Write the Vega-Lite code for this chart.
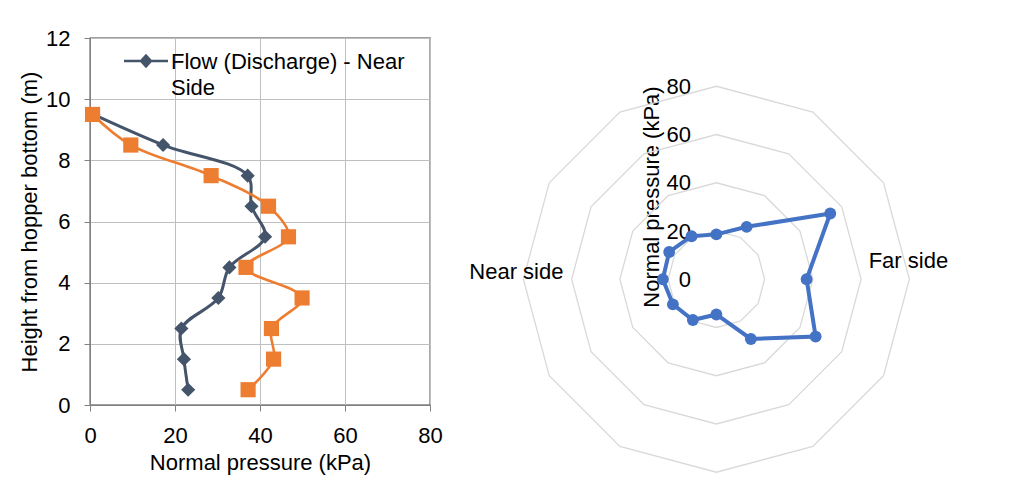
{
  "$schema": "https://vega.github.io/schema/vega-lite/v6.json",
  "background": "white",
  "padding": {"left": 17, "top": 26, "right": 5, "bottom": 5},
  "bounds": "flush",
  "spacing": 21,
  "config": {
    "font": "Liberation Sans",
    "axis": {
      "labelFont": "Liberation Sans",
      "titleFont": "Liberation Sans",
      "labelFontSize": 22,
      "titleFontSize": 22,
      "labelColor": "#000000",
      "titleColor": "#000000",
      "titleFontWeight": "normal",
      "labelFlush": false,
      "labelOverlap": false
    },
    "legend": {"labelFont": "Liberation Sans", "labelColor": "#000000"}
  },
  "datasets": {
    "profiles": [
      {"series": "Flow (Discharge) - Near Side", "height": 0.5, "pressure": 23.1},
      {"series": "Flow (Discharge) - Near Side", "height": 1.5, "pressure": 22.1},
      {"series": "Flow (Discharge) - Near Side", "height": 2.5, "pressure": 21.5},
      {"series": "Flow (Discharge) - Near Side", "height": 3.5, "pressure": 30.2},
      {"series": "Flow (Discharge) - Near Side", "height": 4.5, "pressure": 32.8},
      {"series": "Flow (Discharge) - Near Side", "height": 5.5, "pressure": 41.2},
      {"series": "Flow (Discharge) - Near Side", "height": 6.5, "pressure": 38.0},
      {"series": "Flow (Discharge) - Near Side", "height": 7.5, "pressure": 37.1},
      {"series": "Flow (Discharge) - Near Side", "height": 8.5, "pressure": 17.2},
      {"series": "Flow (Discharge) - Near Side", "height": 9.5, "pressure": 0.8},
      {"series": "Flow (Discharge) - Far Side", "height": 0.5, "pressure": 37.2},
      {"series": "Flow (Discharge) - Far Side", "height": 1.5, "pressure": 43.2},
      {"series": "Flow (Discharge) - Far Side", "height": 2.5, "pressure": 42.7},
      {"series": "Flow (Discharge) - Far Side", "height": 3.5, "pressure": 49.9},
      {"series": "Flow (Discharge) - Far Side", "height": 4.5, "pressure": 36.7},
      {"series": "Flow (Discharge) - Far Side", "height": 5.5, "pressure": 46.7},
      {"series": "Flow (Discharge) - Far Side", "height": 6.5, "pressure": 42.0},
      {"series": "Flow (Discharge) - Far Side", "height": 7.5, "pressure": 28.5},
      {"series": "Flow (Discharge) - Far Side", "height": 8.5, "pressure": 9.6},
      {"series": "Flow (Discharge) - Far Side", "height": 9.5, "pressure": 0.6}
    ],
    "radar": [
      {"angle": 0, "pressure": 18.6},
      {"angle": 30, "pressure": 25.1},
      {"angle": 60, "pressure": 54.5},
      {"angle": 90, "pressure": 37.4},
      {"angle": 120, "pressure": 47.5},
      {"angle": 150, "pressure": 28.6},
      {"angle": 180, "pressure": 14.6},
      {"angle": 210, "pressure": 19.5},
      {"angle": 240, "pressure": 20.8},
      {"angle": 270, "pressure": 22.2},
      {"angle": 300, "pressure": 22.6},
      {"angle": 330, "pressure": 20.6}
    ],
    "rings": [
      {"ring": 20, "angle": [0, 30, 60, 90, 120, 150, 180, 210, 240, 270, 300, 330]},
      {"ring": 40, "angle": [0, 30, 60, 90, 120, 150, 180, 210, 240, 270, 300, 330]},
      {"ring": 60, "angle": [0, 30, 60, 90, 120, 150, 180, 210, 240, 270, 300, 330]},
      {"ring": 80, "angle": [0, 30, 60, 90, 120, 150, 180, 210, 240, 270, 300, 330]}
    ],
    "sides": [
      {"angle": 90, "side": "Far side"},
      {"angle": 270, "side": "Near side"}
    ]
  },
  "hconcat": [
    {
      "width": 340,
      "height": 367,
      "data": {"name": "profiles"},
      "view": {"stroke": "#404040", "strokeWidth": 1.3},
      "encoding": {
        "x": {
          "field": "pressure",
          "type": "quantitative",
          "scale": {"domain": [0, 80], "nice": false, "zero": false},
          "axis": {
            "values": [0, 20, 40, 60, 80],
            "title": "Normal pressure (kPa)",
            "grid": true,
            "gridColor": "#BFBFBF",
            "gridWidth": 1,
            "domainColor": "#808080",
            "tickColor": "#808080",
            "tickSize": 6,
            "labelPadding": 14,
            "titleY": 64,
            "titleBaseline": "alphabetic"
          }
        },
        "y": {
          "field": "height",
          "type": "quantitative",
          "scale": {"domain": [0, 12], "nice": false, "zero": false},
          "axis": {
            "values": [0, 2, 4, 6, 8, 10, 12],
            "title": "Height from hopper bottom (m)",
            "grid": true,
            "gridColor": "#BFBFBF",
            "gridWidth": 1,
            "domainColor": "#808080",
            "tickColor": "#808080",
            "tickSize": 6,
            "labelPadding": 14,
            "titleX": -54,
            "titleBaseline": "alphabetic"
          }
        }
      },
      "layer": [
        {
          "transform": [{"filter": "datum.series === 'Flow (Discharge) - Near Side'"}],
          "mark": {"type": "line", "interpolate": "catmull-rom", "stroke": "#44546A", "strokeWidth": 3},
          "encoding": {"order": {"field": "height", "type": "quantitative"}}
        },
        {
          "transform": [{"filter": "datum.series === 'Flow (Discharge) - Near Side'"}],
          "mark": {"type": "point", "shape": "diamond", "filled": true, "size": 200, "opacity": 1},
          "encoding": {
            "color": {
              "field": "series",
              "type": "nominal",
              "scale": {
                "domain": ["Flow (Discharge) - Near Side", "Flow (Discharge) - Far Side"],
                "range": ["#44546A", "#ED7D31"]
              },
              "legend": {
                "values": ["Flow (Discharge) - Near Side"],
                "orient": "none",
                "legendX": 34,
                "legendY": 2,
                "title": null,
                "padding": 0,
                "symbolType": "M-1,-0.1 L-0.25,-0.1 L0,-0.37 L0.25,-0.1 L1,-0.1 L1,0.01 L0.25,0.01 L0,0.28 L-0.25,0.01 L-1,0.01 Z",
                "symbolSize": 1936,
                "symbolStrokeWidth": 0,
                "symbolFillColor": "#44546A",
                "symbolOpacity": 1,
                "labelFontSize": 22,
                "labelLimit": 400,
                "labelOffset": 3,
                "labelBaseline": "middle",
                "labelExpr": "[slice(datum.label, 0, 23), slice(datum.label, 24)]",
                "encode": {"labels": {"update": {"lineHeight": {"value": 26}}}}
              }
            }
          }
        },
        {
          "transform": [{"filter": "datum.series === 'Flow (Discharge) - Far Side'"}],
          "mark": {"type": "line", "interpolate": "catmull-rom", "stroke": "#ED7D31", "strokeWidth": 2.6},
          "encoding": {"order": {"field": "height", "type": "quantitative"}}
        },
        {
          "transform": [{"filter": "datum.series === 'Flow (Discharge) - Far Side'"}],
          "mark": {"type": "point", "shape": "square", "filled": true, "size": 230, "color": "#ED7D31", "opacity": 1}
        }
      ]
    },
    {
      "width": 530.75,
      "height": 434.25,
      "view": {"stroke": null},
      "encoding": {
        "x": {
          "field": "px",
          "type": "quantitative",
          "scale": {"domain": [-110, 110], "nice": false, "zero": false},
          "axis": null
        },
        "y": {
          "field": "py",
          "type": "quantitative",
          "scale": {"domain": [-80, 100], "nice": false, "zero": false},
          "axis": {
            "orient": "left",
            "offset": -265.375,
            "values": [0, 20, 40, 60, 80],
            "domain": false,
            "ticks": false,
            "grid": false,
            "labelPadding": 26,
            "title": "Normal pressure (kPa)",
            "titleAngle": -90,
            "titleX": -58,
            "titleY": 158.5,
            "titleAlign": "center",
            "titleBaseline": "alphabetic"
          }
        }
      },
      "layer": [
        {
          "data": {"name": "rings"},
          "transform": [
            {"flatten": ["angle"]},
            {"calculate": "datum.ring * sin(datum.angle * PI / 180)", "as": "px"},
            {"calculate": "datum.ring * cos(datum.angle * PI / 180)", "as": "py"}
          ],
          "mark": {"type": "line", "interpolate": "linear-closed", "stroke": "#D9D9D9", "strokeWidth": 1.3},
          "encoding": {
            "detail": {"field": "ring", "type": "nominal"},
            "order": {"field": "angle", "type": "quantitative"}
          }
        },
        {
          "data": {"name": "radar"},
          "transform": [
            {"calculate": "datum.pressure * sin(datum.angle * PI / 180)", "as": "px"},
            {"calculate": "datum.pressure * cos(datum.angle * PI / 180)", "as": "py"}
          ],
          "mark": {"type": "line", "interpolate": "linear-closed", "stroke": "#4472C4", "strokeWidth": 4},
          "encoding": {"order": {"field": "angle", "type": "quantitative"}}
        },
        {
          "data": {"name": "radar"},
          "transform": [
            {"calculate": "datum.pressure * sin(datum.angle * PI / 180)", "as": "px"},
            {"calculate": "datum.pressure * cos(datum.angle * PI / 180)", "as": "py"}
          ],
          "mark": {"type": "point", "shape": "circle", "filled": true, "size": 140, "color": "#4472C4", "opacity": 1}
        },
        {
          "data": {"name": "sides"},
          "transform": [
            {"filter": "datum.side === 'Near side'"},
            {"calculate": "80 * sin(datum.angle * PI / 180)", "as": "px"},
            {"calculate": "80 * cos(datum.angle * PI / 180)", "as": "py"}
          ],
          "mark": {"type": "text", "font": "Liberation Sans", "fontSize": 22, "color": "#000000", "align": "center", "baseline": "alphabetic", "dx": -7, "dy": 0},
          "encoding": {"text": {"field": "side"}}
        },
        {
          "data": {"name": "sides"},
          "transform": [
            {"filter": "datum.side === 'Far side'"},
            {"calculate": "80 * sin(datum.angle * PI / 180)", "as": "px"},
            {"calculate": "80 * cos(datum.angle * PI / 180)", "as": "py"}
          ],
          "mark": {"type": "text", "font": "Liberation Sans", "fontSize": 22, "color": "#000000", "align": "center", "baseline": "alphabetic", "dx": -1, "dy": -11.5},
          "encoding": {"text": {"field": "side"}}
        }
      ]
    }
  ]
}
